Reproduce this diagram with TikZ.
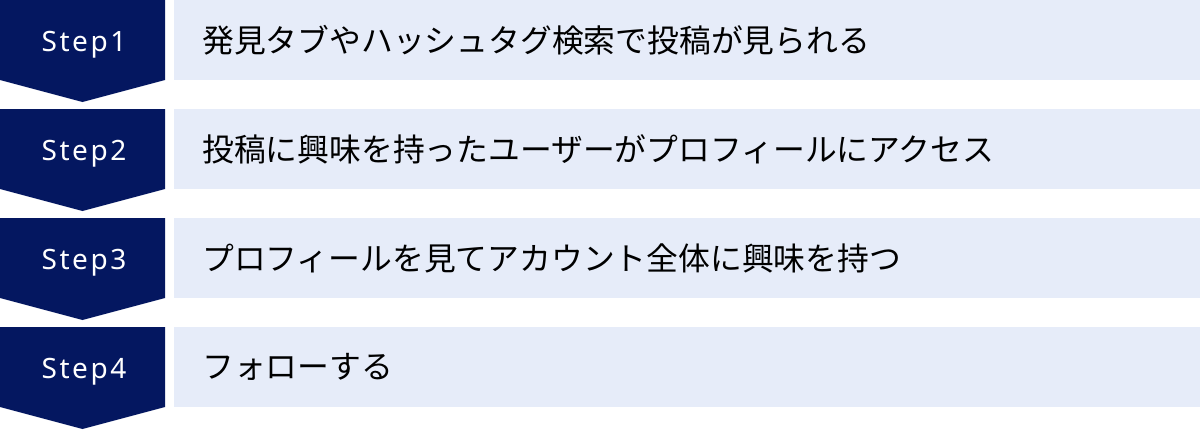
\documentclass[tikz,border=0pt]{standalone}
\usepackage{fontspec}
\setmainfont{Noto Sans}
\newfontfamily\jpfont{Noto Sans CJK JP}
\newfontfamily\stepfont[LetterSpace=9]{Noto Sans}
\definecolor{navy}{HTML}{041760}
\definecolor{pale}{HTML}{E6ECF9}
\begin{document}
\begin{tikzpicture}[x=1pt,y=-1pt,
  stepnum/.style={text=white,font=\stepfont\fontsize{28}{30}\selectfont,anchor=base,inner sep=0pt},
  desc/.style={text=black,font=\jpfont\fontsize{31.8}{36}\selectfont,anchor=west,inner sep=0pt}]
\useasboundingbox (0,0) rectangle (1200,429);
\foreach \i/\t [count=\n] in {0/{発見タブやハッシュタグ検索で投稿が見られる},109/{投稿に興味を持ったユーザーがプロフィールにアクセス},218/{プロフィールを見てアカウント全体に興味を持つ},327/{フォローする}} {
  \fill[navy] (0,\i) -- (165,\i) -- (165,\i+80) -- (82.5,\i+102) -- (0,\i+80) -- cycle;
  \fill[pale] (174,\i) rectangle (1200,\i+80);
  \node[stepnum] (s\n) at (84,\i+51) {Step\n};
  \node[desc] (d\n) at (202,\i+40) {\t};
}
\end{tikzpicture}
\end{document}
